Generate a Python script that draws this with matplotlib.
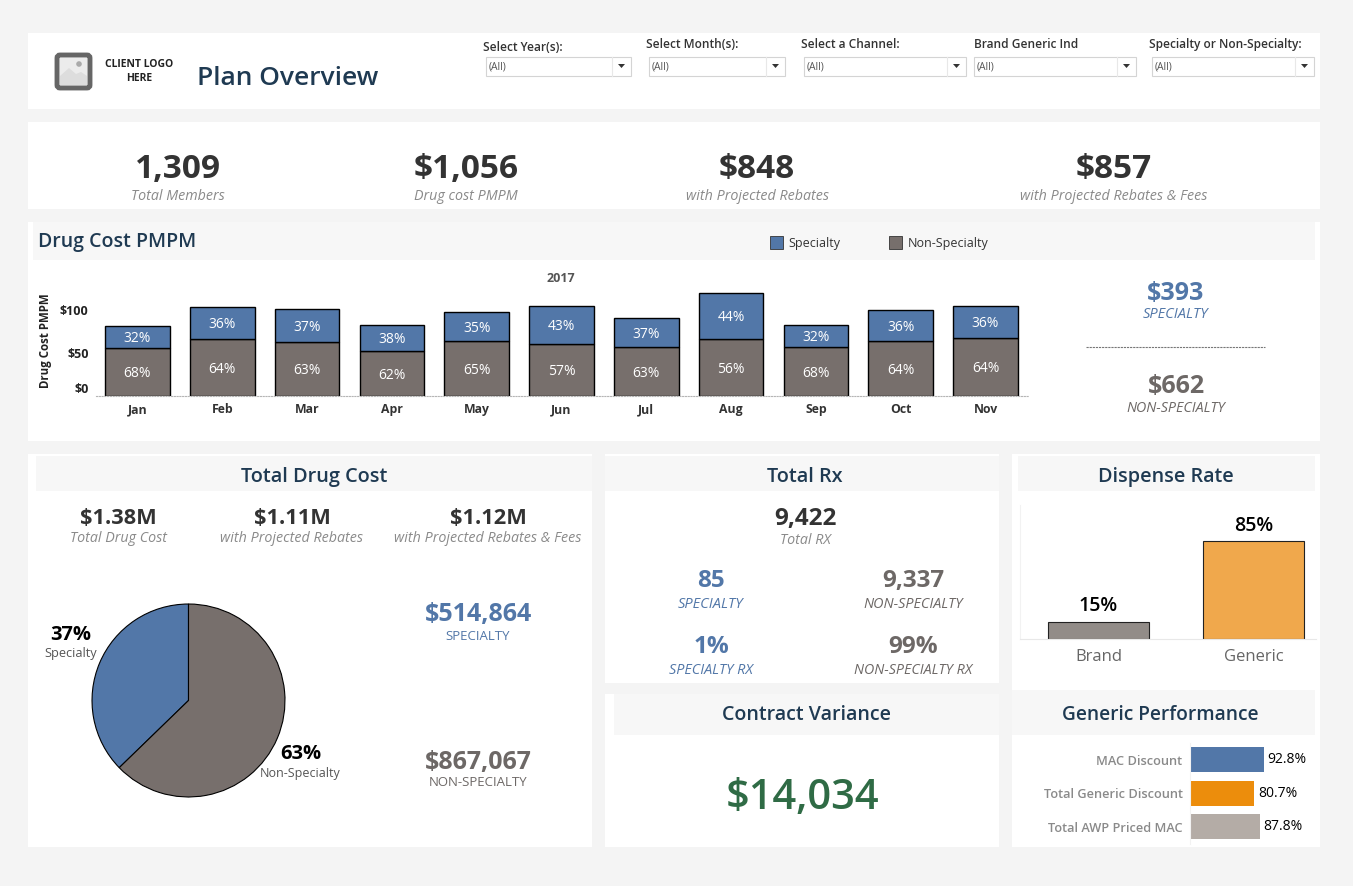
"""
Plan Overview dashboard - drug cost, Rx and generic performance panels
"""

import matplotlib
matplotlib.use('Agg')
import matplotlib.pyplot as plt
from matplotlib.patches import FancyBboxPatch, Polygon, Circle, Rectangle

W, H = 1353, 886

BLUE = '#5277a8'
GRAY = '#776f6c'
NAVY = '#1f3a52'
DARK = '#333333'
LABEL = '#8a8a8a'
GREEN = '#2f6b45'

months = ['Jan', 'Feb', 'Mar', 'Apr', 'May', 'Jun', 'Jul', 'Aug', 'Sep', 'Oct', 'Nov']
non_specialty = [56, 66, 63, 52.5, 64, 60, 57, 66, 57, 64, 67]
specialty = [26, 37.5, 38, 30.5, 34, 45, 34, 54, 26, 36, 38]
specialty_pct = [32, 36, 37, 38, 35, 43, 37, 44, 32, 36, 36]
non_specialty_pct = [68, 64, 63, 62, 65, 57, 63, 56, 68, 64, 64]
y_ticks = [0, 50, 100]

pie_labels = ['Specialty', 'Non-Specialty']
pie_values = [514864, 867067]

dispense_labels = ['Brand', 'Generic']
dispense_values = [15, 85]

generic_labels = ['MAC Discount', 'Total Generic Discount', 'Total AWP Priced MAC']
generic_values = [92.8, 80.7, 87.8]
generic_colors = [BLUE, '#ec8d0c', '#b4aca6']

filter_names = ['Select Year(s):', 'Select Month(s):', 'Select a Channel:',
                'Brand Generic Ind', 'Specialty or Non-Specialty:']

plt.rcParams['font.family'] = ['Open Sans', 'DejaVu Sans']


def px_axes(fig, x0, y0, x1, y1):
    """Axes placed from pixel coordinates, y counted from the top"""
    return fig.add_axes([x0 / W, 1 - y1 / H, (x1 - x0) / W, (y1 - y0) / H])


def panel(bg, x0, y0, x1, y1, color='white'):
    bg.add_patch(Rectangle((x0, y0), x1 - x0, y1 - y0, fc=color, ec='none'))


def kpi(bg, x, y, value, label, color=DARK, size=17, sub=10.3, gap=24):
    bg.text(x, y + 3, value, color=color, fontsize=size, fontweight='bold', ha='center', va='center')
    bg.text(x, y + gap + 1, label, color=color if color != DARK else LABEL, fontsize=sub,
            style='italic', ha='center', va='center')


def draw_layout(bg):
    for box in [(28, 33, 1320, 109), (28, 122, 1320, 209), (28, 222, 1320, 441),
                (28, 454, 592, 847), (605, 454, 999, 683), (605, 694, 999, 847),
                (1012, 454, 1320, 847)]:
        panel(bg, *box)
    for box in [(33, 222, 1315, 260), (36, 456, 592, 491), (605, 456, 999, 491),
                (1018, 456, 1315, 491), (614, 694, 999, 735), (1012, 690, 1315, 735)]:
        panel(bg, *box, color='#f7f7f7')

    titles = [(38, 240, 'Drug Cost PMPM', 'left', 14), (314, 475, 'Total Drug Cost', 'center', 14.3),
              (805, 475, 'Total Rx', 'center', 14.3), (1166, 475, 'Dispense Rate', 'center', 14.2),
              (806, 713, 'Contract Variance', 'center', 14.1), (1160, 713, 'Generic Performance', 'center', 13.8)]
    for x, y, text, ha, size in titles:
        bg.text(x, y + 2, text, color=NAVY, fontsize=size, fontweight='semibold', ha=ha, va='center')


def draw_header(bg):
    # logo placeholder
    bg.add_patch(FancyBboxPatch((57, 55), 33, 33, boxstyle='round,pad=0,rounding_size=3',
                                fc='#ececec', ec='#666666', lw=3.5))
    bg.add_patch(Polygon([(60, 85), (60, 76), (69, 68), (76, 74), (81, 72), (87, 76), (87, 85)],
                         fc='#dddddd', ec='none'))
    bg.add_patch(Circle((79, 64), 2.8, fc='#aaaaaa', ec='none'))
    bg.text(139, 64, 'CLIENT LOGO', fontsize=7.5, fontweight='bold', color='#222222', ha='center', va='center')
    bg.text(139, 78, 'HERE', fontsize=7.5, fontweight='bold', color='#222222', ha='center', va='center')
    bg.text(197, 78, 'Plan Overview', fontsize=19, color=NAVY, fontweight='semibold', ha='left', va='center')

    boxes = [(486, 631, 47), (649, 785, 44), (804, 966, 44), (974, 1136, 44), (1152, 1314, 44)]
    label_x = [483, 646, 801, 974, 1149]
    for (x0, x1, ly), lx, name in zip(boxes, label_x, filter_names):
        bg.text(lx, ly, name, fontsize=8.6, fontweight='semibold', color='#333333', ha='left', va='center')
        bg.add_patch(Rectangle((x0, 56.5), x1 - x0 - 0.5, 19.5, fc='white', ec='#d4d4d4', lw=0.8))
        bg.plot([x1 - 19, x1 - 19], [57, 76], color='#e8e8e8', lw=0.8)
        bg.add_patch(Polygon([(x1 - 13, 64), (x1 - 6, 64), (x1 - 9.5, 68)], fc='#333333', ec='none'))
        bg.text(x0 + 3, 66.5, '(All)', fontsize=7.5, color='#555555', ha='left', va='center')


def draw_kpis(bg):
    kpi(bg, 178, 166, '1,309', 'Total Members', size=24, gap=29)
    kpi(bg, 466, 166, '$1,056', 'Drug cost PMPM', size=24, gap=29)
    kpi(bg, 757, 166, '$848', 'with Projected Rebates', size=24, gap=29)
    kpi(bg, 1114, 166, '$857', 'with Projected Rebates & Fees', size=24, gap=29)

    # legend of the stacked bars
    bg.add_patch(Rectangle((770, 236), 13, 13, fc=BLUE, ec='#333333', lw=0.6))
    bg.text(788, 243, 'Specialty', fontsize=9, color='#333333', ha='left', va='center')
    bg.add_patch(Rectangle((889, 236), 13, 13, fc=GRAY, ec='#333333', lw=0.6))
    bg.text(908, 243, 'Non-Specialty', fontsize=9, color='#333333', ha='left', va='center')

    kpi(bg, 1176, 290, '$393', 'SPECIALTY', color=BLUE, size=18, sub=10.5, gap=24)
    bg.plot([1086, 1265], [347, 347], color='#777777', lw=0.8, ls=(0, (2, 0.8)))
    kpi(bg, 1176, 383.5, '$662', 'NON-SPECIALTY', color='#6d6866', size=18, sub=10.3, gap=23.5)

    kpi(bg, 118, 515, '$1.38M', 'Total Drug Cost', size=15.7, gap=23)
    kpi(bg, 292, 515, '$1.11M', 'with Projected Rebates', size=15.7, gap=23)
    kpi(bg, 488, 515, '$1.12M', 'with Projected Rebates & Fees', size=15.7, gap=23)

    bg.text(478, 614, '$514,864', color=BLUE, fontsize=18, fontweight='bold', ha='center', va='center')
    bg.text(478, 636, 'SPECIALTY', color=BLUE, fontsize=9.5, ha='center', va='center')
    bg.text(478, 762, '$867,067', color='#6d6866', fontsize=18, fontweight='bold', ha='center', va='center')
    bg.text(478, 783, 'NON-SPECIALTY', color='#6d6866', fontsize=9.5, ha='center', va='center')

    kpi(bg, 805, 516, '9,422', 'Total RX', size=17.5, gap=24)
    kpi(bg, 711, 578, '85', 'SPECIALTY', color=BLUE, size=17.5, sub=10.5, gap=26)
    kpi(bg, 913, 578, '9,337', 'NON-SPECIALTY', color='#6d6866', size=17.5, sub=10.4, gap=26)
    kpi(bg, 711, 644, '1%', 'SPECIALTY RX', color=BLUE, size=17.5, sub=10.4, gap=26)
    kpi(bg, 913, 644, '99%', 'NON-SPECIALTY RX', color='#6d6866', size=17.5, sub=10.3, gap=26)

    bg.text(802, 798, '$14,034', color=GREEN, fontsize=30, fontweight='semibold', ha='center', va='center')


def draw_stacked_bars(fig, bg):
    ax = px_axes(fig, 95.5, 290, 1027.5, 396)
    ax.patch.set_alpha(0)
    x = range(len(months))
    ax.bar(x, non_specialty, width=0.76, color=GRAY, edgecolor='black', linewidth=1)
    ax.bar(x, specialty, width=0.76, bottom=non_specialty, color=BLUE, edgecolor='black', linewidth=1)
    for i in x:
        ax.annotate(f'{non_specialty_pct[i]}%', (i, non_specialty[i] / 2), xytext=(0, -1.2),
                    textcoords='offset points', color='white', fontsize=10, ha='center', va='center')
        ax.annotate(f'{specialty_pct[i]}%', (i, non_specialty[i] + specialty[i] / 2), xytext=(0, -1.2),
                    textcoords='offset points', color='white', fontsize=10, ha='center', va='center')
    ax.set_xlim(-0.495, 10.495)
    ax.set_ylim(0, 123.3)
    ax.set_xticks(list(x), months, fontsize=8.8, fontweight='bold', color='#333333')
    ax.set_yticks(y_ticks, [f'${t}' for t in y_ticks], fontsize=9, fontweight='bold', color='#222222')
    ax.get_yticklabels()[0].set_va('bottom')
    ax.tick_params(length=0, pad=5)
    ax.tick_params(axis='x', pad=5)
    for side in ['top', 'right', 'left']:
        ax.spines[side].set_visible(False)
    ax.spines['bottom'].set_color('#b5b5b5')
    ax.spines['bottom'].set_linestyle((0, (1, 1.5)))
    ax.spines['bottom'].set_linewidth(0.8)
    bg.text(45, 341, 'Drug Cost PMPM', rotation=90, fontsize=8.3, fontweight='bold', color='#222222',
            ha='center', va='center')
    bg.text(561, 279, '2017', fontsize=9, fontweight='bold', color='#555555', ha='center', va='center')


def draw_pie(fig, bg):
    ax = px_axes(fig, 88, 600, 289, 801)
    ax.pie(pie_values, colors=[BLUE, GRAY], startangle=90, radius=0.96,
           wedgeprops={'edgecolor': 'black', 'linewidth': 0.8})
    ax.set_xlim(-1, 1)
    ax.set_ylim(-1, 1)
    shares = [round(100 * v / sum(pie_values)) for v in pie_values]
    bg.text(70.5, 635, f'{shares[0]}%', fontsize=14.5, fontweight='bold', color='black', ha='center', va='center')
    bg.text(71, 654, pie_labels[0], fontsize=9.2, color='#555555', ha='center', va='center')
    bg.text(300.5, 754, f'{shares[1]}%', fontsize=14.5, fontweight='bold', color='black', ha='center', va='center')
    bg.text(300, 773, pie_labels[1], fontsize=9, color='#555555', ha='center', va='center')


def draw_dispense(fig):
    ax = px_axes(fig, 1020, 505, 1316, 639)
    ax.patch.set_alpha(0)
    ax.bar([0, 1], dispense_values, width=0.65, color=['#928c88', '#f0a84c'], edgecolor='#222222', linewidth=0.8)
    for i, v in enumerate(dispense_values):
        ax.text(i, v + 4.5, f'{v}%', fontsize=14, fontweight='semibold', color='black', ha='center', va='bottom')
    ax.set_xlim(-0.506, 1.403)
    ax.set_ylim(0, 116)
    ax.set_xticks([0, 1], dispense_labels, fontsize=12, color='#666666')
    ax.set_yticks([])
    ax.tick_params(length=0, pad=7)
    for side in ['top', 'right']:
        ax.spines[side].set_visible(False)
    ax.spines['left'].set_color('#f2f2f2')
    ax.spines['bottom'].set_color('#e8e8e8')


def draw_generic(fig):
    ax = px_axes(fig, 1189.5, 743, 1315.5, 844)
    ax.patch.set_alpha(0)
    y = range(len(generic_labels))
    ax.barh(list(y), generic_values, height=0.75, color=generic_colors)
    for i, v in zip(y, generic_values):
        ax.text(v + 5, i, f'{v}%', fontsize=10, color='black', ha='left', va='center')
    ax.set_xlim(0, 157.5)
    ax.set_ylim(2.52, -0.5)
    ax.set_yticks(list(y), generic_labels, fontsize=9.2, fontweight='semibold', color=LABEL)
    ax.set_xticks([])
    ax.tick_params(length=0, pad=5)
    for side in ['top', 'right', 'bottom']:
        ax.spines[side].set_visible(False)
    ax.spines['left'].set_color('#f2f2f2')


def main():
    fig = plt.figure(figsize=(W / 100, H / 100), dpi=100, facecolor='#f4f4f4')
    bg = fig.add_axes([0, 0, 1, 1])
    bg.set_xlim(0, W)
    bg.set_ylim(H, 0)
    bg.axis('off')

    draw_layout(bg)
    draw_header(bg)
    draw_kpis(bg)
    draw_stacked_bars(fig, bg)
    draw_pie(fig, bg)
    draw_dispense(fig)
    draw_generic(fig)

    fig.savefig('out.png', dpi=100, facecolor=fig.get_facecolor())
    plt.close(fig)


if __name__ == '__main__':
    main()
